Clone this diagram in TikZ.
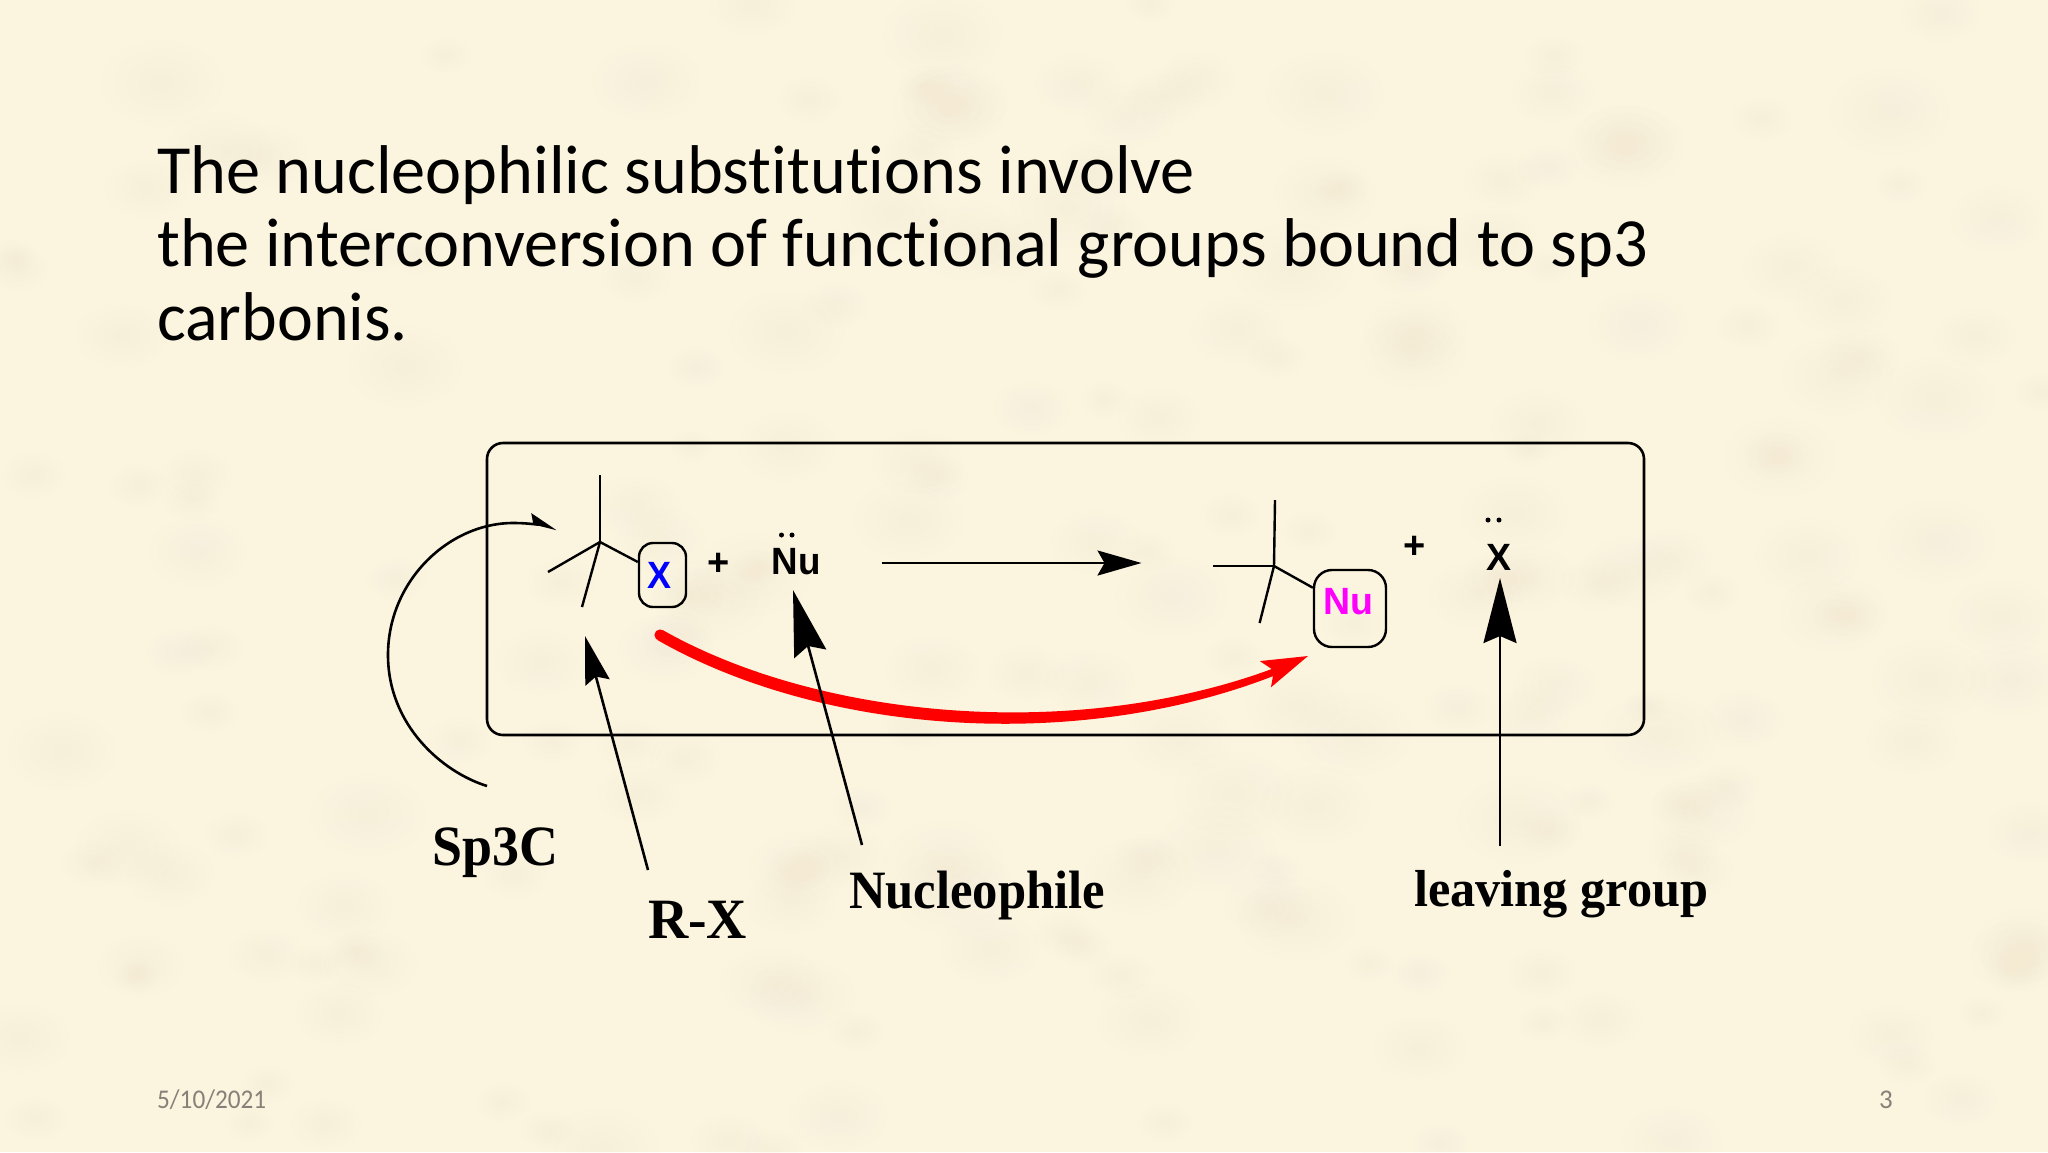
\documentclass[tikz,border=0pt]{standalone}
\usepackage{fontspec}
\usepackage{graphicx}
\usetikzlibrary{arrows.meta}
\setmainfont{Carlito}[Ligatures=NoCommon]
\newfontfamily\chemfont{Liberation Sans}[BoldFont={Liberation Sans Bold}]
\newfontfamily\labfont{Liberation Serif}[BoldFont={Liberation Serif Bold}]
\newcommand{\fitw}[2]{\resizebox{#1pt}{\height}{#2}}
\definecolor{paper}{RGB}{251,244,222}
\definecolor{paperlight}{RGB}{255,250,236}
\definecolor{paperdark}{RGB}{245,235,205}
\definecolor{footgray}{RGB}{135,128,120}
\definecolor{purered}{RGB}{255,0,0}
\definecolor{pureblue}{RGB}{0,0,255}
\definecolor{puremagenta}{RGB}{255,0,255}
\tikzset{
  titletext/.style={inner sep=0pt,anchor=base west,font=\fontsize{69}{69}\selectfont,text=black},
  foottext/.style={inner sep=0pt,anchor=base west,font=\fontsize{27}{27}\selectfont,text=footgray},
  chemtext/.style={inner sep=0pt,anchor=base west,font=\chemfont\bfseries\fontsize{38}{38}\selectfont},
  labeltext/.style={inner sep=0pt,anchor=base west,font=\labfont\bfseries\fontsize{57}{57}\selectfont},
  bond/.style={draw=black,line width=2.4pt},
  chembox/.style={draw=black,line width=2.4pt,rounded corners=14pt,inner sep=0pt},
  frame/.style={draw=black,line width=2.6pt,rounded corners=16pt},
  lonepair/.style={fill=black,circle,inner sep=0pt,minimum size=5pt},
  pointer/.style={draw=black,line width=2.6pt},
  x=1pt,y=-1pt
}
\begin{document}
\begin{tikzpicture}[x=1pt,y=-1pt]
\useasboundingbox (0,0) rectangle (2048,1152);
\fill[paper] (0,0) rectangle (2048,1152);
% mottled paper texture
\pgfmathsetseed{4711}
\foreach \i in {1,...,520}{
  \pgfmathsetmacro{\px}{rnd*2048}
  \pgfmathsetmacro{\py}{rnd*1152}
  \pgfmathsetmacro{\pr}{18+rnd*34}
  \pgfmathtruncatemacro{\pk}{rnd<0.6 ? 1 : 0}
  \ifnum\pk=1 \def\pc{paperlight}\def\po{0.07}\else\def\pc{paperdark}\def\po{0.035}\fi
  \foreach \f in {1,0.8,0.6,0.4,0.2}{
    \fill[\pc,opacity=\po] (\px,\py) ellipse ({\pr*\f*1.2} and {\pr*\f*0.85});
  }
}

% title
\node[titletext] (t1) at (157,193) {\fitw{1038}{The nucleophilic substitutions involve}};
\node[titletext] (t2) at (157,266.5) {\fitw{1491}{the interconversion of functional groups bound to sp3}};
\node[titletext] (t3) at (157,340) {\fitw{251}{carbonis.}};

% frame
\draw[frame] (487,443) rectangle (1644,735);

% reactant
\coordinate (c1) at (600,542);
\coordinate (c1top) at (600,475);
\coordinate (c1left) at (548,572);
\coordinate (c1down) at (582,607);
\node[chembox,minimum width=47pt,minimum height=64pt] (xbox) at (662.5,575) {};
\node[chemtext,text=pureblue] (xlabel) at (646.8,588) {\fitw{24}{X}};
\draw[bond] (c1top) -- (c1);
\draw[bond] (c1left) -- (c1);
\draw[bond] (c1down) -- (c1);
\draw[bond] (c1) -- (xbox);

\node[chemtext] (plus1) at (707,575) {+};
\node[chemtext] (nu1) at (771.5,574) {\fitw{49}{Nu}};
\node[lonepair] (nu1a) at (781.5,535) {};
\node[lonepair] (nu1b) at (792,535) {};

% reaction arrow
\coordinate (rstart) at (881.5,563);
\coordinate (rend) at (1141.5,563);
\draw[pointer,-{Stealth[length=44pt,width=25pt,inset=7pt]}] (rstart) -- (rend);

% product
\coordinate (c2) at (1274,566);
\coordinate (c2top) at (1275,500);
\coordinate (c2left) at (1213,566);
\coordinate (c2down) at (1259.6,623);
\node[chembox,rounded corners=18pt,minimum width=72pt,minimum height=77pt] (nubox) at (1350,608.5) {};
\node[chemtext,text=puremagenta] (nu2) at (1323,614) {\fitw{50}{Nu}};
\draw[bond] (c2top) -- (c2);
\draw[bond] (c2left) -- (c2);
\draw[bond] (c2down) -- (c2);
\draw[bond] (c2) -- (nubox);

\node[chemtext] (plus2) at (1403,558) {+};
\node[chemtext] (x2) at (1486.5,570) {\fitw{25}{X}};
\node[lonepair] (x2a) at (1488,520) {};
\node[lonepair] (x2b) at (1499,520) {};

% red curved arrow: tapered body, then the arrow that carries the head
\coordinate (redstart) at (660,635);
\coordinate (redend) at (1308,656);
\fill[purered] (662.6,630) .. controls (825,722) and (1090,743) .. (1290,662)
  -- (1293,668) .. controls (1090,755) and (825,736) .. (657.4,640) -- cycle;
\fill[purered] (redstart) circle[radius=5.6];
\draw[purered,line width=4pt,-{Stealth[length=46pt,width=28pt,inset=9pt]}] (redstart) .. controls (825,729) and (1090,749) .. (redend);

% labels with pointers
\node[labeltext] (sp3c) at (432,865) {\fitw{126}{Sp3C}};
\node[labeltext] (rx) at (648,938) {\fitw{99}{R-X}};
\node[labeltext,font=\labfont\bfseries\fontsize{54}{54}\selectfont] (nucleo) at (849,908) {\fitw{256}{Nucleophile}};
\node[labeltext,font=\labfont\bfseries\fontsize{52}{52}\selectfont] (leaving) at (1414,906.5) {\fitw{294}{leaving group}};

\coordinate (rxtail) at (648,870);
\coordinate (rxtip) at (585,636);
\draw[pointer,-{Stealth[length=48pt,width=25pt,inset=6pt]}] (rxtail) -- (rxtip);

\coordinate (nutail) at (862,845);
\coordinate (nutip) at (793,590);
\draw[pointer,-{Stealth[length=66pt,width=33pt,inset=8pt]}] (nutail) -- (nutip);

\coordinate (xtail) at (1500,846);
\coordinate (xtip) at (1500,578);
\draw[pointer,-{Stealth[length=65pt,width=33pt,inset=7pt]}] (xtail) -- (xtip);

\coordinate (sptail) at (487,786);
\coordinate (sptip) at (557,529);
\draw[pointer,-{Stealth[harpoon,length=25pt,width=18pt,inset=4pt]}] (sptail) .. controls (442,772) and (388,725) .. (388,655) .. controls (388,580) and (450,522) .. (515,523) .. controls (530,523) and (545,526) .. (sptip);

% footer
\node[foottext] (date) at (157,1108) {\fitw{109}{5/10/2021}};
\node[foottext] (page) at (1879,1108) {3};
\end{tikzpicture}
\end{document}
